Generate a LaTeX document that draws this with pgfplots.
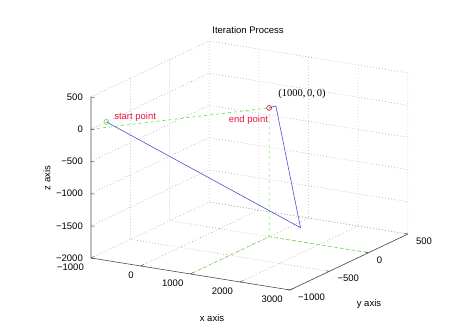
\documentclass[border=0pt]{standalone}
\usepackage{fontspec}
\setmainfont{Liberation Sans}
\newfontfamily\serifnum{Liberation Serif}
\usepackage{pgfplots}
\pgfplotsset{compat=1.18}
\definecolor{gridgray}{RGB}{150,150,150}
\definecolor{mblue}{RGB}{75,80,210}
\definecolor{mgreen}{RGB}{100,220,70}
\definecolor{mred}{RGB}{230,20,60}
\tikzset{mgrid/.style={gridgray, line width=0.5pt, dash pattern=on 0.7pt off 2.3pt}}
\begin{document}
\begin{tikzpicture}[x=1pt,y=1pt]
\useasboundingbox (0,0) rectangle (474,334);
\begin{axis}[
  at={(219.42pt,234.13pt)}, anchor=origin,
  x={(0.04975pt,-0.008pt)}, y={(0.07867pt,0.03733pt)}, z={(0pt,0.0644pt)},
  xmin=-1000,xmax=3000, ymin=-1000,ymax=500, zmin=-2000,zmax=500,
  xtick={-1000,0,1000,2000,3000}, xticklabels={−1000,0,1000,2000,3000},
  ytick={-1000,-500,0,500}, yticklabels={−1000,−500,0,500},
  ztick={-2000,-1500,-1000,-500,0,500}, zticklabels={−2000,−1500,−1000,−500,0,500},
  grid=none,
  axis line style={draw=none},
  major tick length=0pt, tick style={draw=none},
  ticklabel style={font=\fontsize{9.5}{11}\selectfont, inner sep=0pt},
  xticklabel style={anchor=north east, xshift=-7pt, yshift=-5.5pt},
  yticklabel style={anchor=north west, xshift=8pt, yshift=-3.5pt},
  zticklabel style={anchor=east, xshift=-8pt},
  clip=false,
]
% background grid on the three back planes
\pgfplotsinvokeforeach{-2000,-1500,-1000,-500,0,500}{
  \draw[mgrid] (axis cs:-1000,-1000,#1) -- (axis cs:-1000,500,#1) -- (axis cs:3000,500,#1);
}
\pgfplotsinvokeforeach{-500,0,500}{
  \draw[mgrid] (axis cs:-1000,#1,500) -- (axis cs:-1000,#1,-2000) -- (axis cs:3000,#1,-2000);
}
\pgfplotsinvokeforeach{0,1000,2000,3000}{
  \draw[mgrid] (axis cs:#1,500,500) -- (axis cs:#1,500,-2000) -- (axis cs:#1,-1000,-2000);
}
\addplot3[mgreen, dashed, line width=0.6pt] coordinates {(-1000,-1000,0) (1000,0,0) (1000,0,-2000) (1000,-1000,-2000)};
\addplot3[mgreen, dashed, line width=0.6pt] coordinates {(1000,0,-2000) (3000,0,-2000)};
\addplot3[mblue, line width=0.6pt] coordinates {(-1000,-805,0) (1630,0,-1782) (1040,60,0) (1000,0,0)};
\addplot3[only marks, mark=o, mgreen, mark size=2.5pt, mark options={line width=0.6pt}] coordinates {(-1000,-805,0)};
\addplot3[only marks, mark=o, mred, mark size=2.5pt, mark options={line width=0.6pt}] coordinates {(1000,0,0)};
\draw[black!70, line width=0.6pt] (axis cs:-1000,-1000,500) -- (axis cs:-1000,-1000,-2000) -- (axis cs:3000,-1000,-2000) -- (axis cs:3000,500,-2000);
\pgfplotsinvokeforeach{-2000,-1500,-1000,-500,0,500}{
  \draw[black!70, line width=0.5pt] (axis cs:-1000,-1000,#1) -- (axis cs:-930,-1000,#1);
}
\pgfplotsinvokeforeach{-1000,0,1000,2000,3000}{
  \draw[black!70, line width=0.5pt] (axis cs:#1,-1000,-2000) -- (axis cs:#1,-960,-2000);
}
\pgfplotsinvokeforeach{-1000,-500,0,500}{
  \draw[black!70, line width=0.5pt] (axis cs:3000,#1,-2000) -- (axis cs:2930,#1,-2000);
}
\node[mred, anchor=west, inner sep=0pt, xshift=7.7pt, yshift=5pt, font=\fontsize{9.5}{11}\selectfont] at (axis cs:-1000,-805,0) {start point};
\node[mred, anchor=east, inner sep=0pt, xshift=-1pt, yshift=-12.5pt, font=\fontsize{9.5}{11}\selectfont] at (axis cs:1000,0,0) {end point};
\node[anchor=west, inner sep=0pt, xshift=9pt, yshift=14pt, font=\serifnum\fontsize{10.5}{12}\selectfont] at (axis cs:1000,0,0) {(1000,\,0,\,0)};
\end{axis}
\node[font=\fontsize{9.5}{11}\selectfont] at (248,304) {Iteration Process};
\node[font=\fontsize{9.5}{11}\selectfont] at (212,16) {x axis};
\node[font=\fontsize{9.5}{11}\selectfont] at (369,30) {y axis};
\node[font=\fontsize{9.5}{11}\selectfont, rotate=90] at (47,156) {z axis};
\end{tikzpicture}
\end{document}
